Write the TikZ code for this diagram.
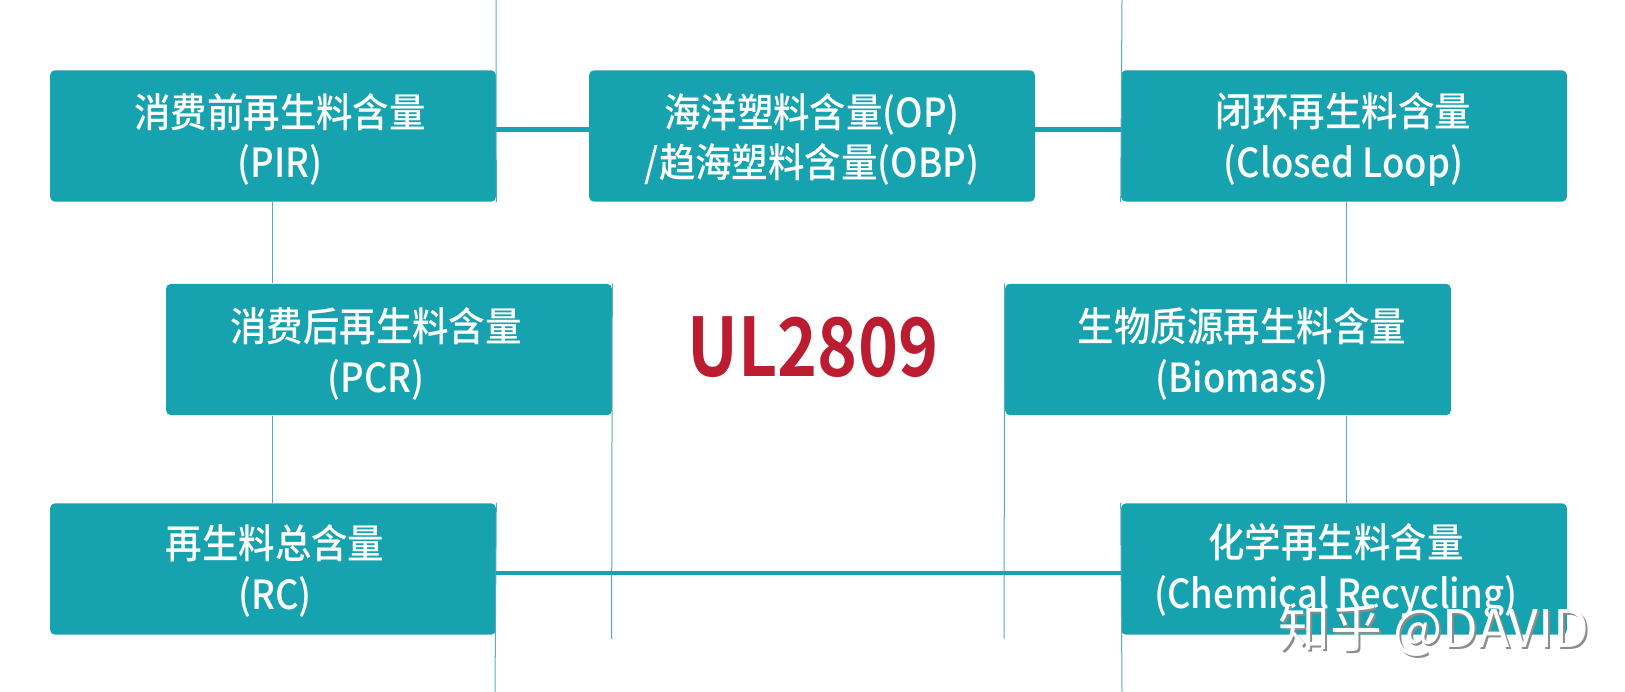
\documentclass[tikz,border=0pt]{standalone}
\usepackage{fontspec}
\setmainfont[FakeStretch=0.91]{Noto Sans CJK SC Medium}
\newfontfamily\ulfont[FakeStretch=0.84]{Noto Sans CJK SC Bold}
\newfontfamily\markfont{Noto Sans CJK SC}
\usetikzlibrary{positioning}
\definecolor{boxteal}{HTML}{17A2B0}
\definecolor{thinteal}{HTML}{5AAABD}
\definecolor{ulred}{HTML}{BC1C30}
\tikzset{
	kindbox/.style={fill=boxteal, rounded corners=0.1cm, minimum width=8.92cm, minimum height=2.63cm, inner sep=0},
	kindtext/.style={color=white, inner sep=0, align=center, font=\fontsize{22.8}{29}\selectfont},
	thinline/.style={line width=0.02cm, color=thinteal},
	thickline/.style={line width=0.1cm, color=boxteal},
	marktext/.style={inner sep=0, font=\markfont\fontsize{29.5}{32}\selectfont},
}
\begin{document}
\begin{tikzpicture}[x=0.02cm, y=-0.02cm]
	%%%%% START %%%%%
	\useasboundingbox (0, 0) rectangle (1625, 692);

	\node[kindbox] (pir) at (273, 136) {};
	\node[kindbox] (op) at (812, 136) {};
	\node[kindbox] (closed) at (1344, 136) {};
	\node[kindbox] (pcr) at (389, 349.5) {};
	\node[kindbox] (biomass) at (1228, 349.5) {};
	\node[kindbox] (rc) at (273, 569) {};
	\node[kindbox] (chem) at (1344, 569) {};

	\coordinate (topleft) at (496, 0);
	\coordinate (topright) at (1122, 0);
	\coordinate (endpcr) at (611.6, 639);
	\coordinate (endbiomass) at (1004, 639);
	\coordinate (endrc) at (495, 692);
	\coordinate (endchem) at (1122, 692);

	\draw[thinline] (topleft) -- (pir.south east);
	\draw[thinline] (topright) -- (closed.south west);
	\draw[thinline] (pcr.north east) -- (endpcr);
	\draw[thinline] (biomass.north west) -- (endbiomass);
	\draw[thinline] (rc.north east) -- (endrc);
	\draw[thinline] (chem.north west) -- (endchem);

	\draw[thinline] ([xshift=-0.02cm]pir.south) -- ([xshift=-0.02cm]pir.south |- pcr.north);
	\draw[thinline] ([xshift=-0.02cm]pir.south |- pcr.south) -- ([xshift=-0.02cm]rc.north);
	\draw[thinline] ([xshift=0.04cm]closed.south) -- ([xshift=0.04cm]closed.south |- biomass.north);
	\draw[thinline] ([xshift=0.04cm]closed.south |- biomass.south) -- ([xshift=0.04cm]chem.north);

	\draw[thickline] ([yshift=0.12cm]pir.east) -- ([yshift=0.12cm]op.west);
	\draw[thickline] ([yshift=0.12cm]op.east) -- ([yshift=0.12cm]closed.west);
	\draw[line width=0.08cm, color=boxteal] ([yshift=-0.08cm]rc.east) -- ([yshift=-0.08cm]chem.west);

	\node[kindtext] (pirtext) at (280, 139.5) {消费前再生料含量\\(PIR)};
	\node[kindtext] (optext) at (812, 139.5) {海洋塑料含量(OP)\\/趋海塑料含量(OBP)};
	\node[kindtext] (closedtext) at (1343.5, 139) {闭环再生料含量\\(Closed Loop)};
	\node[kindtext] (pcrtext) at (376, 354) {消费后再生料含量\\(PCR)};
	\node[kindtext] (biomasstext) at (1242, 354) {生物质源再生料含量\\(Biomass)};
	\node[kindtext] (rctext) at (275, 571) {再生料总含量\\(RC)};
	\node[kindtext] (chemtext) at (1336, 571) {化学再生料含量\\(Chemical Recycling)};

	\node[inner sep=0, color=ulred, font=\ulfont\fontsize{46}{50}\selectfont] (ulname) at (813, 347) {UL2809};

	\node[marktext, color=black!45] (markshadow) at (1436, 632) {知乎 @DAVID};
	\node[marktext, color=white] (marktop) at (1434, 630) {知乎 @DAVID};
	%%%%% END %%%%%
\end{tikzpicture}
\end{document}
